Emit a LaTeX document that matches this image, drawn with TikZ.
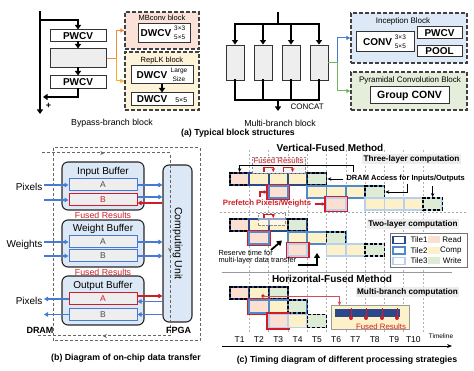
\documentclass[tikz,border=0pt]{standalone}
\usepackage{fontspec}
\setmainfont{Liberation Sans}
\usetikzlibrary{positioning,arrows.meta,decorations.markings}

\definecolor{tileA}{RGB}{44,72,138}
\definecolor{tileB}{RGB}{78,138,204}
\definecolor{tileC}{RGB}{182,208,238}
\definecolor{readc}{RGB}{251,224,210}
\definecolor{compc}{RGB}{253,241,202}
\definecolor{writec}{RGB}{222,236,214}
\definecolor{redc}{RGB}{208,30,40}
\definecolor{arrblue}{RGB}{70,122,212}
\definecolor{buffill}{RGB}{220,232,246}
\definecolor{boxgray}{RGB}{238,238,238}
\definecolor{mbfill}{RGB}{250,226,216}
\definecolor{repfill}{RGB}{253,243,216}
\definecolor{incfill}{RGB}{221,233,246}
\definecolor{pyrfill}{RGB}{228,238,219}
\definecolor{orangec}{RGB}{240,140,60}
\definecolor{goldc}{RGB}{240,182,40}
\definecolor{greenc}{RGB}{120,180,90}

\newcommand{\fsz}[1]{\fontsize{#1}{#1}\selectfont}
\newcommand{\sizes}[2]{\begin{tabular}{@{}c@{}}#1\\#2\end{tabular}}
% one slot of the timing diagram: [opts]{name}{column}{top}{fill}{tile}
\newcommand{\tcell}[6][]{\node[cell,fill=#5,draw=#6,#1] (#2) at ({230+(#3-0.5)*19.3},{#4+6}) {};}

\tikzset{
  thk/.style={line width=2.4pt,line cap=rect},
  tip/.style={-{Triangle[width=6pt,length=4.5pt]}},
  tipsm/.style={-{Triangle[width=4pt,length=4pt]}},
  convbox/.style={draw=black!80,line width=1pt,fill=white,inner sep=0pt,font=\bfseries\fsz{10}},
  convtxt/.style={inner sep=0pt,font=\bfseries\fsz{10}},
  sizetxt/.style={inner sep=0pt,font=\fontsize{6.5}{9.2}\selectfont},
  midbox/.style={draw=black!80,line width=1pt,fill=boxgray,inner sep=0pt},
  mbox/.style={draw=black!80,line width=0.9pt,fill=boxgray,minimum width=18pt,minimum height=35pt,inner sep=0pt},
  dashbox/.style={draw=black!75,line width=1.4pt,dash pattern=on 4pt off 2pt,inner sep=0pt},
  buf/.style={draw=black!85,line width=1.1pt,rounded corners=6pt,fill=buffill,minimum width=82pt,inner sep=0pt},
  abox/.style={minimum width=68pt,minimum height=12pt,inner sep=0pt,fill=boxgray,draw=arrblue,line width=1pt,font=\fsz{8.5},text=black!70},
  rbox/.style={abox,draw=redc,text=redc},
  barr/.style={draw=arrblue,line width=1.3pt,-{Triangle[width=4.5pt,length=4pt]}},
  rarr/.style={draw=redc,line width=1.3pt,-{Triangle[width=4.5pt,length=4pt]}},
  loopd/.style={draw=black!60,line width=1pt,dash pattern=on 3pt off 2pt},
  cell/.style={minimum width=19.3pt,minimum height=12pt,inner sep=0pt,line width=1.8pt},
  dram/.style={postaction={draw=black,line width=1.3pt,dash pattern=on 3pt off 1.8pt}},
  pref/.style={preaction={draw=redc,line width=4.6pt}},
  grid/.style={draw=black!30,line width=0.5pt,dash pattern=on 2pt off 2pt},
  lead/.style={draw=black,line width=0.9pt,-{Stealth[length=4pt,width=3.5pt]}},
  redl/.style={draw=redc,line width=1.1pt,-{Stealth[length=4pt,width=3.5pt]}},
  bigarr/.style={draw=black,line width=1.8pt,-{Triangle[width=6pt,length=5pt]}},
  tag/.style={fill=black!7,inner sep=1.5pt,font=\bfseries\fsz{8.2}},
  caption/.style={font=\bfseries\fsz{8.8}},
  swatch/.style={minimum width=12pt,minimum height=7pt,inner sep=0pt}
}

\begin{document}
\begin{tikzpicture}[x=1pt,y=-1pt]
\useasboundingbox (0,0) rectangle (474,371);

% ---------- (a) bypass-branch block
\node[convbox,minimum width=56pt,minimum height=12pt] (pw1) at (78,36) {PWCV};
\node[midbox,minimum width=56pt,minimum height=19pt] (mid) at (78,58.5) {};
\node[convbox,minimum width=56pt,minimum height=13pt] (pw2) at (78,82.5) {PWCV};
\coordinate (byin) at (40,12);
\coordinate (byout) at (40,114);
\coordinate (bysplit) at (40,20);
\coordinate (bysum) at (43,97);
\draw[thk,tip] (byin) -- (byout);
\draw[thk,tip] (bysplit) -| (pw1.north);
\draw[thk,tip] (pw1) -- (mid);
\draw[thk,tip] (mid) -- (pw2);
\draw[thk,tip] (pw2.south) |- (bysum);
\node[font=\bfseries\fsz{9}] (plus) at (48.5,106) {+};

\node[dashbox,fill=mbfill,minimum width=74pt,minimum height=37pt] (mb) at (162,30.5) {};
\node[font=\fsz{7.5}] (mbt) at (162,18) {MBconv block};
\node[convbox,minimum width=52pt,minimum height=19pt] (mbdw) at (164,33.5) {};
\node[convtxt] (mbdwt) at (156,33.5) {DWCV};
\node[sizetxt,right=2.5pt of mbdwt] (mbsz) {\sizes{3×3}{5×5}};
\node[dashbox,fill=repfill,minimum width=74pt,minimum height=58pt] (rep) at (162,81) {};
\node[font=\fsz{7.5}] (rept) at (162,61) {RepLK block};
\node[convbox,minimum width=62pt,minimum height=18pt] (dwl) at (162,75) {};
\node[convtxt] (dwlt) at (152,75) {DWCV};
\node[sizetxt,right=3pt of dwlt] (dwlsz) {\sizes{Large}{Size}};
\node[convbox,minimum width=62pt,minimum height=13pt] (dw5) at (162,99.5) {DWCV\hspace{8pt}{\normalfont\fsz{7}5×5}};
\draw[line width=2pt,tip] (dwl) -- (dw5);
\coordinate (brA) at (116,58.5);
\draw[line width=1pt,orangec,tipsm] (mid.east) -- (brA) |- (mb.west);
\draw[line width=1pt,goldc,tipsm] (brA) |- (rep.west);
\node[font=\fsz{8.8}] (bylab) at (112,123) {Bypass-branch block};

% ---------- (a) multi-branch block
\foreach \i/\x in {1/235,2/263,3/291,4/319}
  \node[mbox] (br\i) at (\x,62.5) {};
\coordinate (mtop) at (278,13);
\coordinate (msplit) at (278,24);
\coordinate (mjoin) at (278,100);
\coordinate (mout) at (278,111);
\draw[thk] (mtop) -- (msplit);
\draw[thk] (br1.north |- msplit) -- (br4.north |- msplit);
\foreach \i in {1,...,4}
  \draw[thk,tip] (br\i.north |- msplit) -- (br\i.north);
\foreach \i in {1,...,4}
  \draw[thk] (br\i.south) -- (br\i.south |- mjoin);
\draw[thk] (br1.south |- mjoin) -- (br4.south |- mjoin);
\draw[thk,tip] (mjoin) -- (mout);
\node[font=\fsz{8},anchor=west] (concat) at (287,107) {CONCAT};
\node[font=\fsz{8.8}] (mblab) at (280,123) {Multi-branch block};

\node[dashbox,fill=incfill,minimum width=116pt,minimum height=50pt] (inc) at (409,38) {};
\node[font=\fsz{8}] (inct) at (403,21.5) {Inception Block};
\node[convbox,minimum width=58pt,minimum height=20pt] (cv) at (385,42) {};
\node[convtxt] (cvt) at (377.5,42) {CONV};
\node[sizetxt,right=2.5pt of cvt] (cvsz) {\sizes{3×3}{5×5}};
\node[convbox,minimum width=45pt,minimum height=12pt] (ipw) at (439.5,33) {PWCV};
\node[convbox,minimum width=45pt,minimum height=11pt] (ipool) at (439.5,51.5) {POOL};
\node[dashbox,fill=pyrfill,minimum width=116pt,minimum height=38pt] (pyr) at (409,91) {};
\node[font=\fsz{8}] (pyrt) at (410,80.5) {Pyramidal Convolution Block};
\node[convbox,minimum width=79pt,minimum height=17pt,font=\bfseries\fsz{10.5}] (gcv) at (409.5,95.5) {Group CONV};
\coordinate (brB) at (337,62.5);
\draw[line width=1pt,greenc] (br4.east) -- (brB);
\draw[line width=1pt,arrblue,tipsm] (brB) |- (inc.west);
\draw[line width=1pt,greenc,tipsm] (brB) |- (pyr.west);

\node[caption] (capa) at (238,133) {(a) Typical block structures};

% ---------- (b) on-chip data transfer
\draw[loopd] (53,148) rectangle (200,341);
\node[buf,minimum height=48pt] (ib) at (103,186) {};
\node[buf,minimum height=47pt] (wb) at (103,243.5) {};
\node[buf,minimum height=49pt] (ob) at (103,300.5) {};
\node[font=\fsz{10}] (ibt) at (103,172) {Input Buffer};
\node[font=\fsz{10}] (wbt) at (103,229) {Weight Buffer};
\node[font=\fsz{10}] (obt) at (103,285.5) {Output Buffer};
\node[abox] (inA) at (103,185) {A};
\node[rbox] (inB) at (103,200) {B};
\node[abox] (wA) at (103,242) {A};
\node[abox] (wB) at (103,256) {B};
\node[rbox] (oA) at (103,299) {A};
\node[abox] (oB) at (103,314.5) {B};
\node[font=\fsz{8.8},text=redc] (fr1) at (103,215) {Fused Results};
\node[font=\fsz{8.8},text=redc] (fr2) at (103,272.5) {Fused Results};
\node[buf,minimum width=29pt,minimum height=157pt] (cu) at (177.5,243.5) {};
\node[font=\fsz{10.5},rotate=-90] (cut) at (cu) {Computing Unit};

\coordinate (src) at (44,0);
\node[font=\fsz{10},anchor=east] (pixin) at (46,187) {Pixels};
\node[font=\fsz{10},anchor=east] (wtin) at (46,245) {Weights};
\node[font=\fsz{10},anchor=east] (pixout) at (46,300.5) {Pixels};
\draw[barr] (inA.west -| src) -- (inA.west);
\draw[barr] (inB.west -| src) -- (inB.west);
\draw[barr] (wA.west -| src) -- (wA.west);
\draw[barr] (wB.west -| src) -- (wB.west);
\draw[barr] (oA.west) -- (oA.west -| src);
\draw[barr] (oB.west) -- (oB.west -| src);
\draw[barr] (inA.east) -- (inA.east -| cu.west);
\draw[barr] ([yshift=3pt]inB.east) -- ([yshift=3pt]inB.east -| cu.west);
\draw[rarr] ([yshift=-3pt]inB.east -| cu.west) -- ([yshift=-3pt]inB.east);
\draw[barr] (wA.east) -- (wA.east -| cu.west);
\draw[barr] (wB.east) -- (wB.east -| cu.west);
\draw[rarr] ([yshift=3pt]oA.east) -- ([yshift=3pt]oA.east -| cu.west);
\draw[barr] ([yshift=-2.5pt]oA.east -| cu.west) -- ([yshift=-2.5pt]oA.east);
\draw[barr] (oB.east -| cu.west) -- (oB.east);

\coordinate (lpA) at (42,153);
\coordinate (lpB) at (170,153);
\coordinate (lpC) at (170,336);
\coordinate (lpD) at (36,336);
\draw[loopd,postaction={decorate},decoration={markings,
  mark=at position 0.14 with {\arrow{Stealth[length=4pt,width=4pt]}},
  mark=at position 0.51 with {\arrow{Stealth[length=4pt,width=4pt]}},
  mark=at position 0.85 with {\arrow{Stealth[length=4pt,width=4pt]}}}]
  (lpA) -- (lpB) -- (lpC) -- (lpD);
\node[font=\bfseries\fsz{9}] (dram) at (40,330) {DRAM};
\node[font=\bfseries\fsz{9}] (fpga) at (178.5,330) {FPGA};
\node[caption] (capb) at (126,358) {(b) Diagram of on-chip data transfer};

% ---------- (c) timing diagram
\foreach \k in {1,...,10}
  \draw[grid] ({230+\k*19.3},150) -- ({230+\k*19.3},333);
\draw[grid,draw=black!35] (220,212) -- (468,212);
\draw[draw=black!40,line width=0.8pt] (222,272) -- (452,272);

\node[font=\bfseries\fsz{10}] (vfm) at (330,148) {Vertical-Fused Method};
\node[tag] (three) at (411.5,159) {Three-layer computation};

% three-layer rows
\tcell[dram]{v-1-1}{1}{173}{readc}{tileA}
\foreach \c in {2,3,4} {\tcell{v-1-\c}{\c}{173}{compc}{tileA}}
\tcell[dram]{v-1-5}{5}{173}{writec}{tileA}
\tcell[pref]{v-2-3}{3}{186}{readc}{tileB}
\foreach \c in {5,6,7} {\tcell{v-2-\c}{\c}{186}{compc}{tileB}}
\tcell[dram]{v-2-8}{8}{186}{writec}{tileB}
\tcell[pref]{v-3-6}{6}{198}{readc}{tileC}
\foreach \c in {8,9,10} {\tcell{v-3-\c}{\c}{198}{compc}{tileC}}
\tcell[dram]{v-3-11}{11}{198}{writec}{tileC}

\node[draw=black!45,dash pattern=on 2.5pt off 1.5pt,line width=0.8pt,fill=black!4,minimum width=53pt,minimum height=16pt,inner sep=0pt] (fbv) at (278.5,165) {};
\node[font=\fsz{7.8},text=redc] (fbvt) at (278.5,160.5) {Fused Results};
\node[font=\bfseries\fsz{7.5},anchor=west] (dramtxt) at (343,179) {DRAM Access for Inputs/Outputs};
\draw[lead] (353,172) -- (353,165) -| (v-1-1.north);
\draw[lead] (dramtxt.west) -- (dramtxt.west -| v-1-5.east);
\draw[lead] (407,184) |- (v-2-8.east);
\draw[lead] (v-3-11.north |- dramtxt.south) -- (v-3-11.north);
\draw[redl] ([xshift=5pt]v-1-2.north) -- ++(0,-5) -| ([xshift=-5pt]v-1-3.north);
\draw[redl] ([xshift=5pt]v-1-3.north) -- ++(0,-5) -| ([xshift=-5pt]v-1-4.north);

\node[font=\bfseries\fsz{7.8},text=redc] (preftxt) at (267,204) {Prefetch Pixels/Weights};
\draw[redl] (preftxt.east) -- (v-3-6.west);
\draw[redl] ([xshift=-7pt]preftxt.north) |- (v-2-3.west);

% two-layer rows
\node[tag] (two) at (413,224) {Two-layer computation};
\tcell[dram]{u-1-1}{1}{219}{readc}{tileA}
\foreach \c in {2,3} {\tcell{u-1-\c}{\c}{219}{compc}{tileA}}
\tcell[dram]{u-1-4}{4}{219}{writec}{tileA}
\tcell[pref]{u-2-2}{2}{232}{readc}{tileB}
\foreach \c in {4,5} {\tcell{u-2-\c}{\c}{232}{compc}{tileB}}
\tcell[dram]{u-2-6}{6}{232}{writec}{tileB}
\tcell[pref]{u-3-4}{4}{244}{readc}{tileC}
\foreach \c in {6,7} {\tcell{u-3-\c}{\c}{244}{compc}{tileC}}
\tcell[dram]{u-3-8}{8}{244}{writec}{tileC}
\node[draw=black!45,dash pattern=on 2.5pt off 1.5pt,line width=0.8pt,fill=white,fill opacity=0.5,minimum width=27pt,minimum height=12pt,inner sep=0pt] (fbu) at (271.5,219) {};
\draw[redl] ([xshift=5pt]u-1-2.north) -- ++(0,-4) -| ([xshift=-5pt]u-1-3.north);

\node[font=\fsz{7.4},anchor=west,align=left] (rsv) at (215,257) {Reserve time for\\multi-layer data transfer};
\coordinate (rsvA) at (271,250);
\coordinate (rsvB) at (282,240.5);
\coordinate (rsvC) at (298,265);
\coordinate (rsvD) at (317,253);
\draw[bigarr] (rsvA) -- (rsvB);
\draw[bigarr] (rsvC) -| (rsvD);

% legend
\node[draw=black!55,line width=0.8pt,fill=white,minimum width=77pt,minimum height=34pt,inner sep=0pt] (leg) at (428.5,250) {};
\foreach \t/\col/\y in {1/tileA/240,2/tileB/250.5,3/tileC/261} {
  \node[swatch,draw=\col,line width=1.8pt,fill=white] (lt\t) at (399,\y) {};
  \node[font=\fsz{8},anchor=west] (ltt\t) at (407,\y) {Tile\t};
}
\foreach \n/\col/\y in {Read/readc/240,Comp/compc/250.5,Write/writec/261} {
  \node[swatch,fill=\col] (ls\n) at (434,\y) {};
  \node[font=\fsz{8},anchor=east] (lst\n) at (465,\y) {\n};
}

% horizontal-fused rows
\node[font=\bfseries\fsz{10}] (hfm) at (332,278.5) {Horizontal-Fused Method};
\node[tag] (multi) at (407.5,292) {Multi-branch computation};
\tcell[dram]{h-1-1}{1}{287}{readc}{tileA}
\tcell[dram]{h-1-2}{2}{287}{compc}{tileA}
\tcell[dram]{h-1-3}{3}{287}{writec}{tileA}
\tcell[pref,minimum height=13pt]{h-2-2}{2}{300.5}{readc}{tileB}
\tcell[minimum height=13pt]{h-2-3}{3}{300.5}{compc}{tileB}
\tcell[dram,minimum height=13pt]{h-2-4}{4}{300.5}{writec}{tileB}
\tcell[pref,minimum height=13pt]{h-3-3}{3}{315}{readc}{tileC}
\tcell[minimum height=13pt]{h-3-4}{4}{315}{compc}{tileC}
\tcell[dram,minimum height=13pt]{h-3-5}{5}{315}{writec}{tileC}

\node[draw=black!40,line width=1pt,fill=compc,minimum width=78pt,minimum height=24pt,inner sep=0pt] (fbh) at (370,318) {};
\node[fill=tileA,minimum width=65pt,minimum height=8pt,inner sep=0pt] (bar) at (367.5,313) {};
\foreach \x in {351,366,382}
  \draw[draw=white!70!tileA,line width=0.6pt] (\x,309) -- (\x,317);
\foreach \x in {351,366,382,397} {
  \draw[draw=redc,line width=0.7pt] (\x,308.5) -- (\x,318);
  \fill[redc] (\x,318) circle (2pt);
}
\node[font=\fsz{7.8},text=redc] (fbht) at (381,326.5) {Fused Results};
\coordinate (hdot) at (263,296);
\fill[redc] (hdot) circle (1.8pt);
\draw[redl,line width=0.7pt,draw=redc!80] (hdot) -| ([xshift=9pt]fbh.north west);

% time axis
\coordinate (tl0) at (222,346);
\coordinate (tl1) at (452,346);
\draw[line width=0.9pt,-{Stealth[length=5pt,width=4pt]}] (tl0) -- (tl1);
\foreach \k in {1,...,10}
  \node[font=\fsz{8.5}] (T\k) at ({230+(\k-0.5)*19.3},339.5) {T\k};
\node[font=\fsz{6.5}] (tline) at (441,336) {Timeline};
\node[caption] (capc) at (347,360) {(c) Timing diagram of different processing strategies};
\end{tikzpicture}
\end{document}
